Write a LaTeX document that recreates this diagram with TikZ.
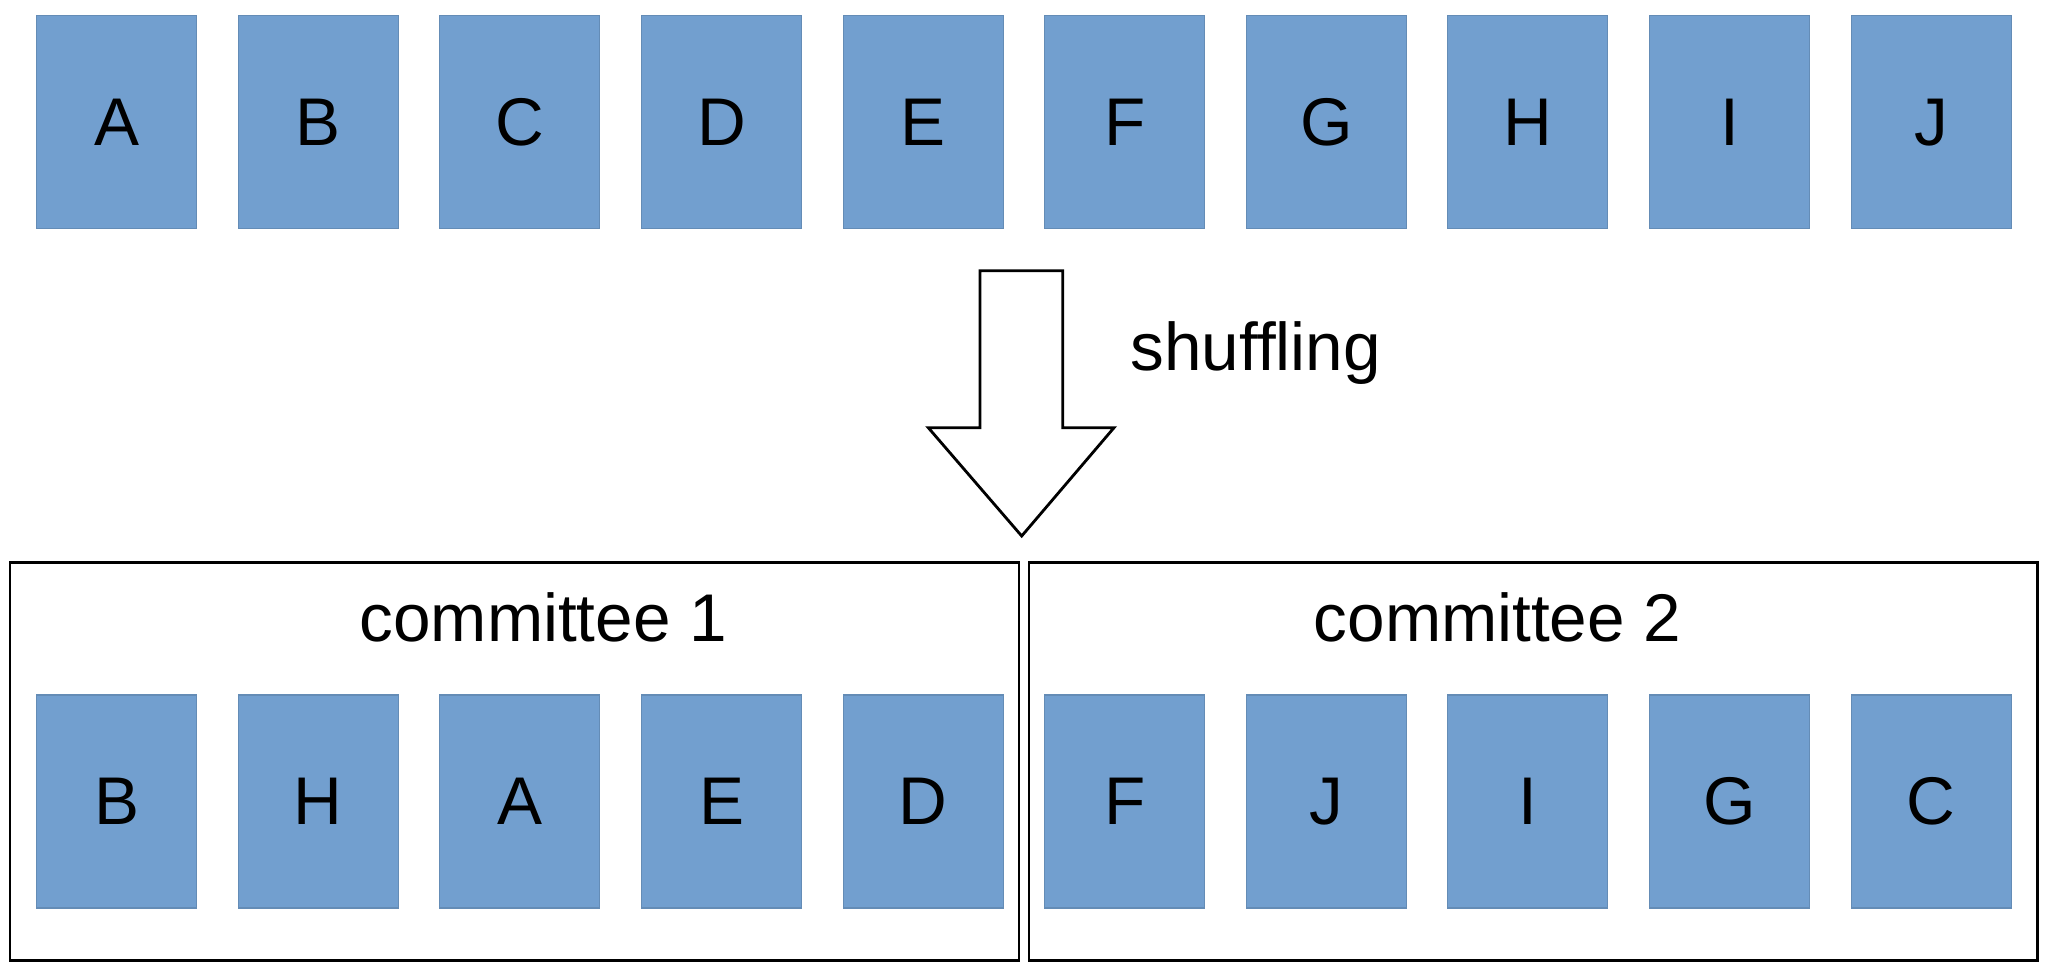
\documentclass[tikz,border=0pt]{standalone}
\usepackage{fontspec}
\setmainfont{Liberation Sans}
\usetikzlibrary{positioning,calc}
\definecolor{boxblue}{RGB}{114,159,207}

\begin{document}
\begin{tikzpicture}[
    % Define styles for the member boxes, frames and texts
    member/.style={
        rectangle,
        fill=boxblue,
        draw=boxblue!88!black,
        line width=0.3pt,
        text centered,
        inner sep=0pt,
        outer sep=0pt,
        minimum width=1.6cm,
        minimum height=2.13cm,
        font=\fontsize{19.2}{23}\selectfont
    },
    committee/.style={
        rectangle,
        draw,
        line width=0.8pt,
        inner sep=0pt,
        outer sep=0pt
    },
    textlabel/.style={
        inner sep=0pt,
        font=\fontsize{19.2}{23}\selectfont
    },
    bigarrow/.style={
        draw,
        fill=white,
        line width=0.8pt,
        line join=miter
    }
]

\useasboundingbox (0,0) rectangle (20.48,-9.66);

% Place the members before shuffling
\node[member] (a) at (1.167,-1.222) {A};
\node[member, right=0.416cm of a] (b) {B};
\node[member, right=0.416cm of b] (c) {C};
\node[member, right=0.416cm of c] (d) {D};
\node[member, right=0.416cm of d] (e) {E};
\node[member, right=0.416cm of e] (f) {F};
\node[member, right=0.416cm of f] (g) {G};
\node[member, right=0.416cm of g] (h) {H};
\node[member, right=0.416cm of h] (i) {I};
\node[member, right=0.416cm of i] (j) {J};

% Shuffling arrow
\coordinate (shafttop) at (10.217,-2.707);
\coordinate (tip) at (10.217,-5.36);
\draw[bigarrow] ($(shafttop)+(-0.417,0)$) -- ($(shafttop)+(0.41,0)$)
    -- ++(0,-1.57) -- ++(0.513,0) -- (tip) -- ++(-0.934,1.083)
    -- ++(0.517,0) -- cycle;
\node[textlabel, anchor=base west] (shuffling) at (11.30,-3.707) {shuffling};

% Committee frames
\node[committee, minimum width=10.09cm, minimum height=3.984cm] (comm1) at (5.145,-7.615) {};
\node[committee, minimum width=10.087cm, minimum height=3.984cm] (comm2) at (15.334,-7.615) {};
\node[textlabel, anchor=base] (title1) at (5.433,-6.41) {committee 1};
\node[textlabel, anchor=base] (title2) at (14.975,-6.41) {committee 2};

% Place the members after shuffling
\node[member, below=4.663cm of a] (c1b) {B};
\node[member, right=0.416cm of c1b] (c1h) {H};
\node[member, right=0.416cm of c1h] (c1a) {A};
\node[member, right=0.416cm of c1a] (c1e) {E};
\node[member, right=0.416cm of c1e] (c1d) {D};
\node[member, right=0.416cm of c1d] (c2f) {F};
\node[member, right=0.416cm of c2f] (c2j) {J};
\node[member, right=0.416cm of c2j] (c2i) {I};
\node[member, right=0.416cm of c2i] (c2g) {G};
\node[member, right=0.416cm of c2g] (c2c) {C};

\end{tikzpicture}
\end{document}
